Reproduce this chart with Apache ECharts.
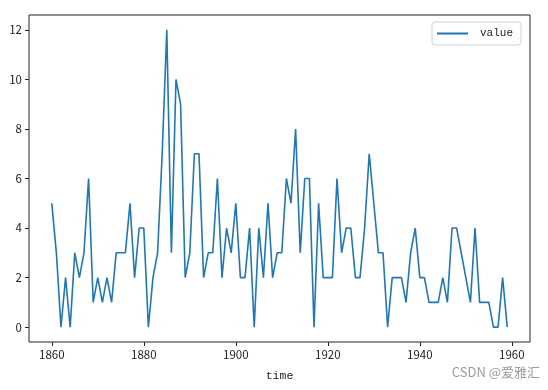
<!DOCTYPE html>
<html>
<head>
<meta charset="utf-8">
<script src="https://cdn.jsdelivr.net/npm/echarts@6/dist/echarts.min.js"></script>
<style>
html,body{margin:0;padding:0;background:#fff;}
#c{width:548px;height:390px;}
</style>
</head>
<body>
<div id="c"></div>
<script>
var years = [];
for (var y = 1860; y <= 1959; y++) years.push(y);
var values = [
  5, 3, 0, 2, 0, 3, 2, 3, 6, 1,
  2, 1, 2, 1, 3, 3, 3, 5, 2, 4,
  4, 0, 2, 3, 7, 12, 3, 10, 9, 2,
  3, 7, 7, 2, 3, 3, 6, 2, 4, 3,
  5, 2, 2, 4, 0, 4, 2, 5, 2, 3,
  3, 6, 5, 8, 3, 6, 6, 0, 5, 2,
  2, 2, 6, 3, 4, 4, 2, 2, 4, 7,
  5, 3, 3, 0, 2, 2, 2, 1, 3, 4,
  2, 2, 1, 1, 1, 2, 1, 4, 4, 3,
  2, 1, 4, 1, 1, 1, 0, 0, 2, 0
];
var xTicks = [1860, 1880, 1900, 1920, 1940, 1960];
var yTicks = [0, 2, 4, 6, 8, 10, 12];
var seriesName = 'value';
var xName = 'time';

var data = years.map(function (yr, i) { return [yr, values[i]]; });

var chart = echarts.init(document.getElementById('c'), null, {renderer: 'canvas'});
var labelFont = {fontFamily: 'Noto Sans CJK SC', fontSize: 11.5, color: '#222'};
chart.setOption({
  animation: false,
  backgroundColor: '#fff',
  grid: {
    left: 29, right: 18, top: 15, bottom: 48,
    show: true, borderColor: '#222', borderWidth: 1,
    backgroundColor: 'transparent',
    outerBoundsMode: 'none'
  },
  legend: {
    left: 432, top: 22,
    data: [seriesName],
    icon: 'rect',
    itemWidth: 31, itemHeight: 2,
    itemGap: 10,
    padding: [6, 8, 6, 5],
    borderColor: '#d0d0d0', borderWidth: 1, borderRadius: 3,
    backgroundColor: 'rgba(255,255,255,0.8)',
    textStyle: {fontFamily: 'Liberation Mono', fontSize: 11, color: '#222', padding: [0, 0, 0, 7]}
  },
  xAxis: {
    type: 'value',
    min: 1855.05, max: 1963.95,
    name: xName, nameLocation: 'middle', nameGap: 28,
    nameTextStyle: {fontFamily: 'Liberation Mono', fontSize: 11.5, color: '#222'},
    axisLine: {show: false, onZero: false},
    splitLine: {show: false},
    axisTick: {show: true, length: 4, customValues: xTicks, lineStyle: {color: '#222'}},
    axisLabel: Object.assign({customValues: xTicks, margin: 7, formatter: function (v) { return String(v); }}, labelFont)
  },
  yAxis: {
    type: 'value',
    min: -0.6, max: 12.6,
    axisLine: {show: false, onZero: false},
    splitLine: {show: false},
    axisTick: {show: true, length: 4, customValues: yTicks, lineStyle: {color: '#222'}},
    axisLabel: Object.assign({customValues: yTicks, margin: 7, formatter: function (v) { return String(v); }}, labelFont)
  },
  series: [{
    name: seriesName,
    type: 'line',
    data: data,
    showSymbol: false,
    symbol: 'none',
    lineStyle: {color: '#1f77b4', width: 1.6},
    itemStyle: {color: '#1f77b4'}
  }],
  graphic: [{
    type: 'text',
    right: 8, top: 366,
    style: {text: 'CSDN @爱雅汇', fill: '#9a9a9a', font: '13px "Noto Sans CJK SC"'}
  }]
});
</script>
</body>
</html>
